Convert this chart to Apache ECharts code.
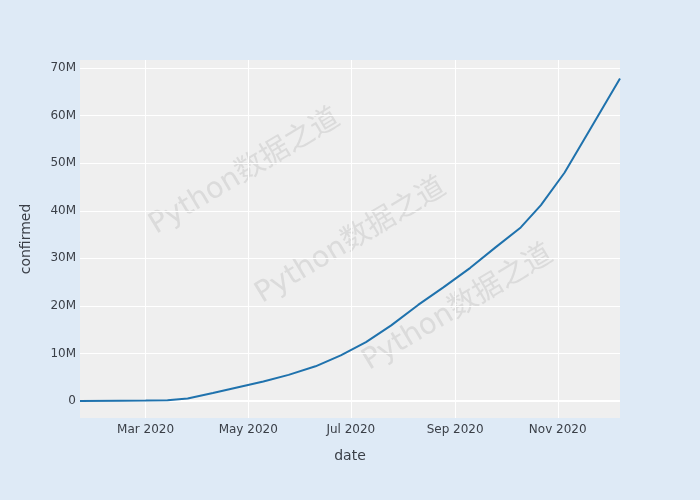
<!DOCTYPE html>
<html>
<head>
<meta charset="utf-8">
<script src="https://cdn.jsdelivr.net/npm/echarts@6/dist/echarts.min.js"></script>
<style>html,body{margin:0;padding:0;background:#deeaf6;}#chart{width:700px;height:500px;}</style>
</head>
<body>
<div id="chart"></div>
<script>
var dates = ['2020-01-22','2020-02-15','2020-03-01','2020-03-14','2020-03-26','2020-04-10','2020-04-25','2020-05-10','2020-05-25','2020-06-10','2020-06-25','2020-07-10','2020-07-25','2020-08-10','2020-08-25','2020-09-10','2020-09-25','2020-10-10','2020-10-22','2020-11-05','2020-11-20','2020-12-01','2020-12-08'];
var confirmed = [555,69000,88000,150000,530000,1700000,2900000,4100000,5500000,7300000,9600000,12400000,15900000,20200000,23900000,28000000,32300000,36500000,41200000,48000000,57000000,63600000,67800000];
var watermarkText = 'Python数据之道';

var months = ['Jan','Feb','Mar','Apr','May','Jun','Jul','Aug','Sep','Oct','Nov','Dec'];
var seriesData = dates.map(function(d, i){ return [d, confirmed[i]]; });

var chart = echarts.init(document.getElementById('chart'));
var font = '"DejaVu Sans", Verdana, sans-serif';
var txtColor = '#3a3f47';

function wm(cx, cy){
  return {
    type: 'text', x: cx, y: cy, rotation: Math.PI * 31 / 180, z: 0, silent: true,
    style: { text: watermarkText, font: '29px "DejaVu Sans", "Noto Sans CJK SC", sans-serif', fill: 'rgba(190,190,190,0.42)', align: 'center', verticalAlign: 'middle' }
  };
}

chart.setOption({
  backgroundColor: '#deeaf6',
  animation: false,
  textStyle: { fontFamily: font },
  grid: { left: 80, right: 80, top: 60, bottom: 82, show: true, backgroundColor: '#efefef', borderWidth: 0, containLabel: false },
  xAxis: {
    type: 'time',
    min: '2020-01-22', max: '2020-12-08',
    splitNumber: 5,
    name: 'date', nameLocation: 'middle', nameGap: 31,
    nameTextStyle: { color: txtColor, fontSize: 14, fontFamily: font },
    axisLine: { show: false }, axisTick: { show: false },
    axisLabel: { color: txtColor, fontSize: 12, fontFamily: font, margin: 6, hideOverlap: false,
      formatter: function(v){ var d = new Date(v); return months[d.getMonth()] + ' ' + d.getFullYear(); } },
    splitLine: { show: true, showMinLine: false, showMaxLine: false, lineStyle: { color: '#ffffff', width: 1 } },
    minorSplitLine: { show: false }
  },
  yAxis: {
    type: 'value',
    min: -3570000, max: 71700000,
    splitNumber: 7,
    name: 'confirmed', nameLocation: 'middle', nameGap: 47,
    nameTextStyle: { color: txtColor, fontSize: 14, fontFamily: font },
    axisLine: { show: false }, axisTick: { show: false },
    axisLabel: { color: txtColor, fontSize: 12, fontFamily: font, margin: 4,
      formatter: function(v){ if (Math.abs(v % 10000000) > 1) return ''; return v === 0 ? '0' : (v / 1000000) + 'M'; } },
    splitLine: { show: true, showMinLine: false, showMaxLine: false, lineStyle: { color: '#ffffff', width: 1 } }
  },
  series: [{
    type: 'line', data: seriesData, showSymbol: false, smooth: false, z: 3,
    lineStyle: { color: '#1f72ad', width: 2 },
    itemStyle: { color: '#1f72ad' },
    markLine: { silent: true, symbol: 'none', z: 1, label: { show: false },
      lineStyle: { color: '#ffffff', width: 2, type: 'solid' }, data: [{ yAxis: 0 }] }
  }],
  graphic: [ wm(245, 172), wm(351, 241), wm(458, 308) ]
});
</script>
</body>
</html>
